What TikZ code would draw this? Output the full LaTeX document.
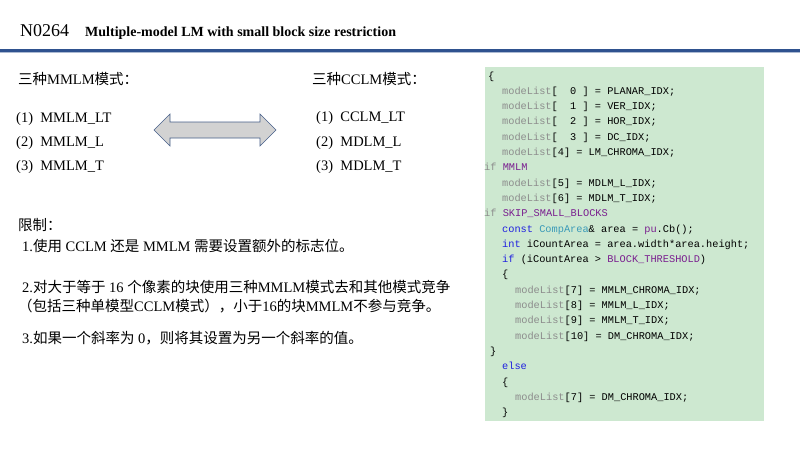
\documentclass[tikz,border=0pt]{standalone}
\usepackage{fontspec}
\setmainfont{Liberation Serif}
\setmonofont{Liberation Mono}
\newfontfamily\cj{Noto Sans CJK SC}
\definecolor{codebg}{HTML}{CDE8D0}
\definecolor{cgray}{HTML}{8C8C8C}
\definecolor{ckw}{HTML}{1F1FE0}
\definecolor{cpur}{HTML}{7A1F8F}
\definecolor{cteal}{HTML}{3A9AB8}
\definecolor{rule}{HTML}{2F528F}
\newcommand{\ml}{\textcolor{cgray}{modeList}}
\tikzset{
 txt/.style={anchor=base west,inner sep=0pt,font=\fontsize{14.5}{15}\selectfont},
 code/.style={anchor=base west,inner sep=0pt,font=\fontsize{10.3}{11}\ttfamily},
}
\begin{document}
\begin{tikzpicture}[x=1pt,y=-1pt]
\useasboundingbox (0,0) rectangle (800,450);
\fill[white] (0,0) rectangle (800,450);
\node[anchor=base west,inner sep=0pt,font=\fontsize{18}{20}\selectfont] (t1) at (20,36) {N0264};
\node[anchor=base west,inner sep=0pt,font=\fontsize{14}{16}\bfseries] (t2) at (85,36) {Multiple-model LM with small block size restriction};
\fill[rule] (0,49) rectangle (800,51.5);
\fill[rule!40] (0,51.5) rectangle (800,52.5);
% left
\node[txt] (l0) at (18,84) {{\cj 三种}MMLM{\cj 模式：}};
\node[txt] (l1) at (16,122) {(1)\ \ MMLM\_LT};
\node[txt] (l2) at (16,146) {(2)\ \ MMLM\_L};
\node[txt] (l3) at (16,170) {(3)\ \ MMLM\_T};
\node[txt] (r0) at (312,84) {{\cj 三种}CCLM{\cj 模式：}};
\node[txt] (r1) at (316,121) {(1)\ \ CCLM\_LT};
\node[txt] (r2) at (316,146) {(2)\ \ MDLM\_L};
\node[txt] (r3) at (316,170) {(3)\ \ MDLM\_T};
\draw[draw=rule!70!gray, fill=gray!35, line width=0.6pt, line join=miter]
 (154,130) -- (170,114) -- (170,122) -- (260,122) -- (260,114) -- (276,130)
 -- (260,146) -- (260,138) -- (170,138) -- (170,146) -- cycle;
\node[txt] (x0) at (18,230) {\cj 限制：};
\node[txt] (x1) at (22,251) {1.{\cj 使用} CCLM {\cj 还是} MMLM {\cj 需要设置额外的标志位。}};
\node[txt] (x2) at (22,292) {2.{\cj 对大于等于} 16 {\cj 个像素的块使用三种}MMLM{\cj 模式去和其他模式竞争}};
\node[txt] (x3) at (18,311) {{\cj （包括三种单模型}CCLM{\cj 模式），小于}16{\cj 的块}MMLM{\cj 不参与竞争。}};
\node[txt] (x4) at (22,343) {3.{\cj 如果一个斜率为} 0{\cj ，则将其设置为另一个斜率的值。}};
% code
\fill[codebg] (485,67) rectangle (764,421);
\def\a{488}\def\b{502}\def\c{515}
\node[code] (c1) at (\a,79) {\{};
\node[code] (c2) at (\b,94.3) {\ml[\ \ 0 ] = PLANAR\_IDX;};
\node[code] (c3) at (\b,109.6) {\ml[\ \ 1 ] = VER\_IDX;};
\node[code] (c4) at (\b,124.9) {\ml[\ \ 2 ] = HOR\_IDX;};
\node[code] (c5) at (\b,140.2) {\ml[\ \ 3 ] = DC\_IDX;};
\node[code] (c6) at (\b,155.5) {\ml[4] = LM\_CHROMA\_IDX;};
\node[code] (c7) at (484,170.8) {\textcolor{cgray}{if} \textcolor{cpur}{MMLM}};
\node[code] (c8) at (\b,186.1) {\ml[5] = MDLM\_L\_IDX;};
\node[code] (c9) at (\b,201.4) {\ml[6] = MDLM\_T\_IDX;};
\node[code] (c10) at (484,216.7) {\textcolor{cgray}{if} \textcolor{cpur}{SKIP\_SMALL\_BLOCKS}};
\node[code] (c11) at (\b,232) {\textcolor{ckw}{const} \textcolor{cteal}{CompArea}\& area = \textcolor{cpur}{pu}.Cb();};
\node[code] (c12) at (\b,247.3) {\textcolor{ckw}{int} iCountArea = area.width*area.height;};
\node[code] (c13) at (\b,262.6) {\textcolor{ckw}{if} (iCountArea > \textcolor{cpur}{BLOCK\_THRESHOLD})};
\node[code] (c14) at (\b,277.9) {\{};
\node[code] (c15) at (\c,293.2) {\ml[7] = MMLM\_CHROMA\_IDX;};
\node[code] (c16) at (\c,308.5) {\ml[8] = MMLM\_L\_IDX;};
\node[code] (c17) at (\c,323.8) {\ml[9] = MMLM\_T\_IDX;};
\node[code] (c18) at (\c,339.1) {\ml[10] = DM\_CHROMA\_IDX;};
\node[code] (c19) at (490,354.4) {\}};
\node[code] (c20) at (\b,369.7) {\textcolor{ckw}{else}};
\node[code] (c21) at (\b,385) {\{};
\node[code] (c22) at (\c,400.3) {\ml[7] = DM\_CHROMA\_IDX;};
\node[code] (c23) at (\b,415.6) {\}};
\end{tikzpicture}
\end{document}
